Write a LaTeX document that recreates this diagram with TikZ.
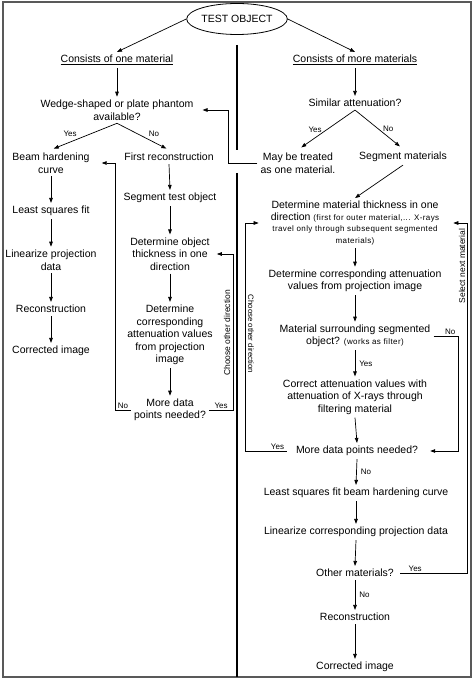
\documentclass[tikz,border=0pt]{standalone}
\usepackage{fontspec}
\setmainfont{Liberation Sans}
\newfontfamily\spfont[LetterSpace=5]{Liberation Sans}
\newcommand\smalltxt{\spfont\fontsize{8}{10}\selectfont}
\usetikzlibrary{arrows.meta,shapes.geometric}
\begin{document}
\begin{tikzpicture}[x=1pt,y=-1pt,
  txt/.style={align=center,inner sep=3pt,font=\fontsize{10.5}{12.5}\selectfont},
  lbl/.style={inner sep=1pt,font=\fontsize{8}{9}\selectfont},
  rotl/.style={inner sep=0pt,font=\fontsize{8.3}{9}\selectfont},
  arr/.style={-{Triangle[length=5pt,width=3.6pt]},line width=0.7pt},
  divider/.style={line width=1.8pt},
  frame/.style={draw=black!65,line width=1.6pt}]
\useasboundingbox (0,0) rectangle (474,684);
\draw[frame] (3,2) rectangle (471,677);

% top
\node[draw,ellipse,line width=0.8pt,minimum width=97pt,minimum height=31pt,inner sep=0pt,font=\fontsize{10.5}{12}\selectfont] (test) at (237,19) {TEST OBJECT};
\node[txt] (one) at (117,60) {\underline{Consists of one material}};
\node[txt] (more) at (355,60) {\underline{Consists of more materials}};

% left half
\node[txt] (wedge) at (117,110) {Wedge-shaped or plate phantom\\available?};
\node[txt] (bhc) at (51,163) {Beam hardening\\curve};
\node[txt] (frec) at (169,157) {First reconstruction};
\node[txt] (lsq) at (51,211) {Least squares fit};
\node[txt] (seg) at (170,198) {Segment test object};
\node[txt] (lin) at (51,260) {Linearize projection\\data};
\node[txt] (detobj) at (170,254) {Determine object\\thickness in one\\direction};
\node[txt] (rec) at (51,309) {Reconstruction};
\node[txt] (detcorr) at (170,335) {Determine\\corresponding\\attenuation values\\from projection\\image};
\node[txt] (corr) at (51,351) {Corrected image};
\node[txt] (more1) at (170,410) {More data\\points needed?};

% right half
\node[txt] (sim) at (355,103) {Similar attenuation?};
\node[txt] (treat) at (298,163) {May be treated\\as one material.};
\node[txt] (segm) at (403,157) {Segment materials};
\node[txt,font=\fontsize{10.5}{11.4}\selectfont] (detmat) at (355,223) {Determine material thickness in one\\direction {\smalltxt (first for outer material,... X-rays}\\{\smalltxt travel only through subsequent segmented}\\{\smalltxt materials)}};
\node[txt] (detcorr2) at (355,281) {Determine corresponding attenuation\\values from projection image};
\node[txt] (surr) at (355,336) {Material surrounding segmented\\object? {\smalltxt (works as filter)}};
\node[txt] (correct) at (355,397) {Correct attenuation values with\\attenuation of X-rays through\\filtering material};
\node[txt] (more2) at (357,451) {More data points needed?};
\node[txt] (lsq2) at (356,493) {Least squares fit beam hardening curve};
\node[txt] (lin2) at (356,532) {Linearize corresponding projection data};
\node[txt] (other) at (355,573) {Other materials?};
\node[txt] (rec2) at (355,617) {Reconstruction};
\node[txt] (corr2) at (355,667) {Corrected image};

% rotated labels
\node[rotl,rotate=90,font=\fontsize{8.5}{9}\selectfont] (chooseL) at (227,333) {Choose other direction};
\node[rotl,rotate=-90,font=\fontsize{7.8}{9}\selectfont] (chooseR) at (251,334) {Choose other direction};
\node[rotl,rotate=90,font=\fontsize{8.5}{9}\selectfont] (selnext) at (462,266) {Select next material};

% central divider
\coordinate (d1) at (237,45);
\coordinate (d2) at (237,150);
\coordinate (d3) at (237,173);
\coordinate (d4) at (237,677);
\draw[divider] (d1) -- (d2) (d3) -- (d4);

% loop corner columns
\coordinate (cl) at (115,0);
\coordinate (cr) at (233,0);
\coordinate (ct) at (228,0);
\coordinate (cc) at (245,0);
\coordinate (cn) at (458,0);
\coordinate (cs) at (467,0);

% connectors top
\draw[arr] (test.west) -- (one.north);
\draw[arr] (test.east) -- (more.north);
\draw[arr] (one.south) -- (wedge.north);
\draw[arr] (more.south) -- (sim.north);

% left branches
\draw[arr,shorten >=3pt] (wedge.south) -- (bhc.north) node[lbl,pos=0.71,above=4pt]{Yes};
\draw[arr,shorten >=3pt] (wedge.south) -- (frec.north) node[lbl,pos=0.71,above=4pt]{No};
\draw[arr] (bhc.south) -- (lsq.north);
\draw[arr] (lsq.south) -- (lin.north);
\draw[arr] (lin.south) -- (rec.north);
\draw[arr] (rec.south) -- (corr.north);
\draw[arr] (frec.south) -- (seg.north);
\draw[arr] (seg.south) -- (detobj.north);
\draw[arr] (detobj.south) -- (detcorr.north);
\draw[arr] (detcorr.south) -- (more1.north);
\draw[arr,shorten >=9pt] (more1.west) -| (cl |- bhc.east) node[lbl,pos=0.25,above=0pt]{No} -- (bhc.east);
\draw[arr,shorten >=4pt] (more1.east) -| (cr |- detobj.east) node[lbl,pos=0.25,above=0pt]{Yes} -- (detobj.east);

% right branches
\draw[arr,shorten >=4pt] (sim.south) -- (treat.north) node[lbl,pos=0.7,above=4pt]{Yes};
\draw[arr,shorten >=4pt] (sim.south) -- (segm.north) node[lbl,pos=0.69,above=4pt]{No};
\draw[arr,shorten >=6pt] (treat.west) -| (ct |- wedge.east) -- (wedge.east);
\draw[arr] (segm.south) -- (detmat.north);
\draw[arr] (detmat.south) -- (detcorr2.north);
\draw[arr] (detcorr2.south) -- (surr.north);
\draw[arr] (surr.south) -- (correct.north) node[lbl,pos=0.5,right=3pt]{Yes};
\draw[arr] (correct.south) -- (more2.north);
\draw[arr,shorten >=9pt] (surr.east) -| (cn |- more2.east) node[lbl,pos=0.34,above=0pt]{No} -- (more2.east);
\draw[arr,shorten <=6pt,shorten >=9pt] (more2.west) -| (cc |- detmat.west) node[lbl,pos=0.16,above=0pt]{Yes} -- (detmat.west);
\draw[arr] (more2.south) -- (lsq2.north) node[lbl,pos=0.5,right=3pt]{No};
\draw[arr] (lsq2.south) -- (lin2.north);
\draw[arr] (lin2.south) -- (other.north);
\draw[arr,shorten <=3pt,shorten >=11pt] (other.east) -| (cs |- detmat.east) node[lbl,pos=0.13,above=0pt]{Yes} -- (detmat.east);
\draw[arr] (other.south) -- (rec2.north) node[lbl,pos=0.5,right=3pt]{No};
\draw[arr] (rec2.south) -- (corr2.north);
\end{tikzpicture}
\end{document}
